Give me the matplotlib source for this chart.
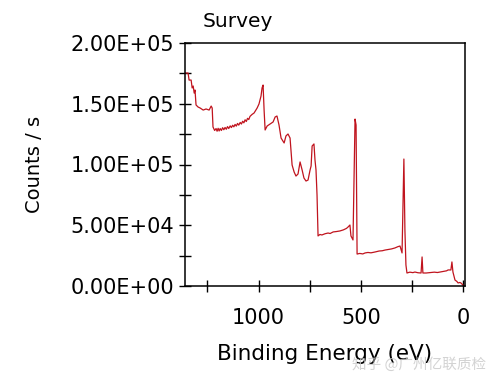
import matplotlib
matplotlib.use("Agg")
import matplotlib.pyplot as plt
from matplotlib.ticker import MultipleLocator, FuncFormatter

# Binding energy (eV) and counts/s
energy = [1359, 1345, 1340, 1330, 1325, 1320, 1315, 1311, 1306, 1296, 1286, 1271,
          1257, 1242, 1232, 1227, 1223, 1215, 1208, 1203, 1198, 1193, 1188, 1182,
          1176, 1170, 1164, 1158, 1152, 1146, 1139, 1133, 1127, 1121, 1115, 1109,
          1103, 1097, 1090, 1084, 1078, 1072, 1066, 1060, 1054, 1048, 1042, 1032,
          1022, 1007, 998,
          988, 983, 978, 973, 968, 958, 944, 929, 919, 910, 900, 890, 875, 866,
          856, 846, 836, 826, 817, 807, 797, 787, 778, 768, 758, 748, 743, 738,
          734, 729, 724, 719, 714, 709, 700, 690, 675, 660, 650, 635, 620, 602,
          585, 570, 562, 553, 548, 538, 533, 528, 523, 518, 505, 490, 479, 465,
          450, 430, 410, 395, 381, 365, 350, 333, 318, 308, 298, 293, 289, 284,
          279, 274, 260, 245, 235, 220, 205, 200, 196, 180, 161, 140, 125, 112,
          95, 80, 73, 59, 54, 49, 39, 30, 24, 15, 10, 0]
counts = [175300, 175300, 169500, 169500, 163000, 164600, 158800, 161300, 149000,
          147300, 146500, 144800, 145700, 144800, 148100, 146500, 130900, 128000,
          129600, 127400, 129800, 127600, 129600, 128000, 130300, 128600, 130500,
          129000, 131200, 129600, 131800, 130400, 132300, 131000, 133000, 131600,
          133800, 132400, 134600, 133300, 135600, 134300, 136800, 135400, 138000,
          137000, 139600, 141200, 142400, 146500, 149800,
          156400, 163000, 165400, 144800, 128400, 131700, 133300, 135000, 139100,
          139900, 132500, 121800, 117700, 123500, 125100, 121800, 99600, 93800,
          90500, 92200, 102100, 95500, 88900, 86400, 87200, 95500, 98800, 115200,
          116000, 116900, 103700, 95500, 74900, 41200, 42400, 42000, 43000, 43600,
          43200, 44500, 44800, 45300, 46200, 47400, 48600, 50200, 41200, 37900,
          87200, 137400, 132500, 26300, 26800, 26400, 27200, 27600, 27300, 28000,
          28800, 29000, 29600, 30100, 30500, 31300, 32400, 32900, 27200, 70800,
          104500, 46100, 17300, 10700, 11400, 11000, 11500, 10900, 10700, 23900,
          10700, 10700, 11000, 11400, 11100, 11500, 12000, 12500, 13200, 13200,
          19800, 11500, 4900, 3800, 2500, 2900, 2500, 800]

y_ticks = [0, 50000, 100000, 150000, 200000]
x_ticks = [1000, 500, 0]

W, H = 496, 387
fig = plt.figure(figsize=(W / 100, H / 100), dpi=100)
ax = fig.add_axes([185 / W, 1 - 286 / H, (465 - 185) / W, (286 - 43) / H])

ax.plot(energy, counts, color="#C0141E", lw=0.9)

ax.set_xlim(1360, -10)
ax.set_ylim(0, 200000)
ax.set_xticks(x_ticks)
ax.set_yticks(y_ticks)
ax.xaxis.set_minor_locator(MultipleLocator(250))
ax.yaxis.set_minor_locator(MultipleLocator(25000))
ax.yaxis.set_major_formatter(FuncFormatter(lambda v, p: f"{v:.2E}"))

font = "DejaVu Sans"
for lab in ax.get_xticklabels() + ax.get_yticklabels():
    lab.set_fontfamily(font)
    lab.set_fontsize(15)

ax.tick_params(axis="both", which="both", direction="inout", length=8, width=1,
               color="black", top=False, right=False)
ax.tick_params(axis="x", which="both", pad=12)
ax.tick_params(axis="y", which="both", pad=4)
for s in ax.spines.values():
    s.set_linewidth(1.1)

ax.set_xlabel("Binding Energy (eV)", fontsize=15.5, family=font, labelpad=11)
ax.set_ylabel("Counts / s", fontsize=14, family=font, labelpad=19)

fig.text(203 / W, 1 - 27 / H, "Survey", fontsize=14.5, family=font,
         ha="left", va="baseline")

fig.text(352 / W, 1 - 369 / H, "知乎 @广州亿联质检", fontsize=10.5,
         family=["Noto Sans CJK SC", "DejaVu Sans"], color="#c8c8c8",
         alpha=0.8, ha="left", va="baseline")

fig.savefig("out.png", dpi=100)
